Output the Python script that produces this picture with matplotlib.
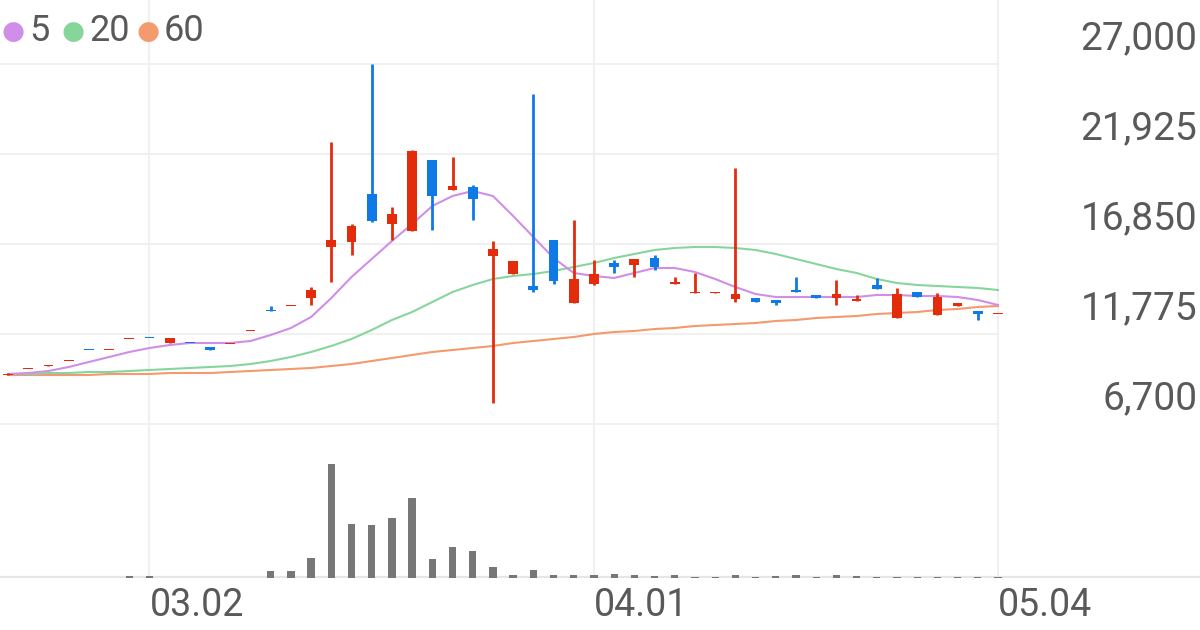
import numpy as np
import matplotlib
matplotlib.use("Agg")
import matplotlib.pyplot as plt

plt.rcParams['font.family'] = ['Roboto', 'DejaVu Sans']

# daily candles (open, high, low, close)
opens = [9480, 9780, 9950, 10230, 10900, 10860, 11470, 11570, 11267, 11290,
         11042, 11190, 11920, 13100, 13330, 13805, 16680, 16963, 19669, 17978,
         17583, 21587, 19895, 20064, 16174, 15158, 14482, 17075, 13523, 14594,
         15779, 15666, 16061, 14620, 14110, 14110, 13748, 13805, 13692, 14256,
         13974, 13805, 13636, 14538, 12677, 14143, 12846, 13354, 13072, 12880]
highs = [9560, 9820, 10000, 10280, 10900, 10900, 11520, 11570, 11549, 11290,
         11042, 11230, 11960, 13354, 13380, 14425, 22602, 17978, 27000, 18936,
         22150, 21587, 21756, 20177, 17019, 15891, 25308, 17075, 18203, 15948,
         15948, 16004, 16230, 14989, 15215, 14143, 21135, 13805, 13692, 14989,
         13974, 14820, 13974, 14933, 14369, 14143, 14087, 13523, 13072, 12930]
lows = [9480, 9780, 9950, 10230, 10860, 10860, 11470, 11530, 11267, 11250,
        10873, 11190, 11920, 13050, 13330, 13410, 14707, 16230, 18090, 17075,
        17583, 17640, 19895, 18203, 7884, 15158, 14143, 14594, 13523, 14538,
        15215, 14989, 15384, 14620, 14110, 14110, 13579, 13579, 13410, 14143,
        13805, 13410, 13636, 14312, 12677, 13861, 12846, 13354, 12564, 12880]
closes = [9540, 9820, 10000, 10280, 10860, 10900, 11520, 11530, 11549, 11250,
          10873, 11230, 11960, 13050, 13380, 14256, 17075, 17865, 18147, 18541,
          22094, 19557, 20120, 19387, 16568, 15891, 14256, 14763, 14876, 15158,
          15553, 16004, 15553, 14650, 14143, 14143, 14030, 13579, 13523, 14143,
          13805, 14030, 13750, 14312, 14030, 13861, 13861, 13523, 12903, 12930]

ma5 = [9519, 9575, 9688, 9914, 10196, 10477, 10760, 10985, 11154, 11267,
       11267, 11267, 11380, 11718, 12113, 12733, 13805, 14989, 16004, 17019,
       17978, 18993, 19557, 19839, 19557, 18429, 17245, 16061, 15215, 15046,
       14933, 15215, 15497, 15497, 15271, 14876, 14425, 14030, 13861, 13861,
       13861, 13861, 13861, 13974, 13974, 13918, 13918, 13861, 13692, 13410]
ma20 = [9519, 9519, 9575, 9575, 9632, 9632, 9688, 9745, 9801, 9857,
        9914, 9970, 10083, 10252, 10477, 10760, 11098, 11493, 12001, 12564,
        13015, 13579, 14143, 14538, 14876, 15046, 15158, 15327, 15553, 15779,
        16061, 16286, 16511, 16624, 16680, 16680, 16624, 16511, 16286, 16004,
        15722, 15440, 15215, 14876, 14650, 14538, 14481, 14425, 14369, 14256]
ma60 = [9462, 9462, 9462, 9462, 9462, 9519, 9519, 9519, 9575, 9575,
        9575, 9632, 9688, 9745, 9801, 9857, 9970, 10083, 10252, 10421,
        10590, 10760, 10873, 10985, 11098, 11267, 11380, 11493, 11606, 11775,
        11887, 11944, 12056, 12113, 12226, 12282, 12339, 12395, 12508, 12564,
        12677, 12733, 12790, 12903, 12959, 13015, 13128, 13184, 13297, 13354]

volume = [0.5, 0.5, 0.5, 0.5, 0.5, 0.5, 2, 2, 0.3, 0.3,
          0.3, 0.3, 0.5, 7, 7, 20, 114, 54, 53, 60,
          80, 19, 31, 27, 11, 3, 8, 3, 3, 3.5,
          4, 3.5, 2.5, 3, 1, 1.5, 3.5, 1, 2, 3,
          1, 3, 2, 1, 1, 1, 1, 1, 1, 1]

price_ticks = [6700, 11775, 16850, 21925, 27000]
date_idx = [7, 29, 49]
date_labels = ['03.02', '04.01', '05.04']

RED = '#e32c0c'
BLUE = '#0f79e6'
GRID = '#f0f0f0'
TXT = '#595959'

fig = plt.figure(figsize=(12, 6.3), dpi=100)
ax = fig.add_axes([0, 200 / 630, 1, 430 / 630])
axv = fig.add_axes([0, 52 / 630, 1, 148 / 630])
xlim = (-0.4, 59.0)
n = len(opens)
x = np.arange(n)

for a in (ax, axv):
    a.set_xlim(*xlim)
    for s in a.spines.values():
        s.set_visible(False)
    a.set_yticks([])
    a.set_xticks([])
    for d in date_idx:
        a.axvline(d, color=GRID, lw=1.5, zorder=0)

ax.set_ylim(6361, 30609)
for p in price_ticks:
    ax.hlines(p, xlim[0], 49, color=GRID, lw=1.5, zorder=0)
    ax.annotate(f'{p:,}', (59.0, p), xytext=(-2, 5), textcoords='offset points',
                ha='right', va='bottom', fontsize=28, color=TXT)

# candles
for i in range(n):
    c = RED if closes[i] >= opens[i] else BLUE
    ax.vlines(i, lows[i], highs[i], color=c, lw=2, zorder=3)
    lo, hi = sorted([opens[i], closes[i]])
    ax.bar(i, max(hi - lo, 60), bottom=lo, width=0.48, color=c, zorder=3)

ax.plot(x, ma60, color='#f5996e', lw=1.5, zorder=2)
ax.plot(x, ma20, color='#86d69c', lw=1.5, zorder=2)
ax.plot(x, ma5, color='#d08ee8', lw=1.5, zorder=2)

# volume
axv.set_ylim(0, 148)
axv.bar(x, volume, width=0.36, color='#777777', zorder=3)
axv.axhline(0, color='#e6e6e6', lw=3, zorder=2)
for d, lab in zip(date_idx, date_labels):
    axv.annotate(lab, (d, 0), xytext=(0, -20), textcoords='offset points',
                 ha='left', va='center', fontsize=27, color=TXT)

# legend
for px, col, lab in [(13, '#d08ee8', '5'), (73, '#86d69c', '20'), (148, '#f5996e', '60')]:
    fig.text(px / 1200, 1 - 32 / 630, '●', color=col, fontsize=19, ha='center', va='center')
    fig.text((px + 16) / 1200, 1 - 31 / 630, lab, color=TXT, fontsize=26, ha='left', va='center')

fig.savefig('out.png', dpi=100)
